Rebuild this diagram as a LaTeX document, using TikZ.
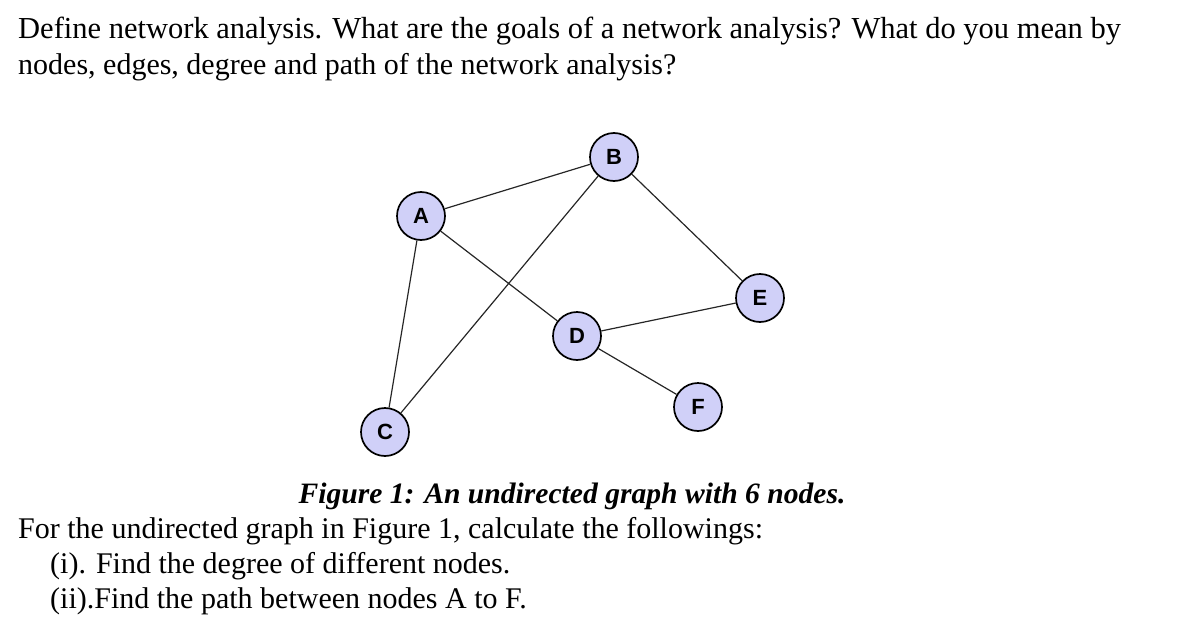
\documentclass[tikz,border=0pt]{standalone}
\usepackage{fontspec}
\setmainfont{Liberation Serif}
\setsansfont{Liberation Sans}
\begin{document}
\begin{tikzpicture}[x=1pt,y=-1pt,
  gnode/.style={circle,draw=black,line width=1.7pt,fill={rgb,255:red,208;green,208;blue,248},minimum size=48pt,inner sep=0pt,font=\sffamily\bfseries\fontsize{22}{22}\selectfont},
  edge/.style={line width=1.2pt,black!85},
  txt/.style={anchor=base west,inner sep=0pt,font=\fontsize{30}{30}\selectfont}]
\useasboundingbox (0,0) rectangle (1183,637);
\node[gnode] (A) at (421,216) {A};
\node[gnode] (B) at (614,157) {B};
\node[gnode] (C) at (385,432) {C};
\node[gnode] (D) at (577,336) {D};
\node[gnode] (E) at (760,298) {E};
\node[gnode] (F) at (698,407) {F};
\draw[edge] (A)--(B) (A)--(D) (A)--(C) (B)--(C) (B)--(E) (D)--(E) (D)--(F);
\node[txt,font=\fontsize{30.5}{30}\selectfont] (t1) at (18,38) {Define network analysis. What are the goals of a network analysis? What do you mean by};
\node[txt] (t2) at (18,74) {nodes, edges, degree and path of the network analysis?};
\node[inner sep=0pt,anchor=base,font=\fontsize{29.6}{30}\selectfont\bfseries\itshape] (cap) at (572,503) {Figure 1: An undirected graph with 6 nodes.};
\node[txt] (t3) at (18,538) {For the undirected graph in Figure 1, calculate the followings:};
\node[txt] (t4) at (50,573) {(i). Find the degree of different nodes.};
\node[txt] (t5) at (50,608) {(ii).Find the path between nodes A to F.};
\end{tikzpicture}
\end{document}
